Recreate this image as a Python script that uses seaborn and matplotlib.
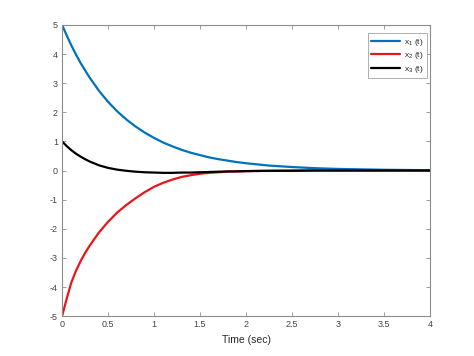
import matplotlib
matplotlib.use("Agg")
import matplotlib.pyplot as plt
import seaborn as sns
import pandas as pd

# values
t = [0.0, 0.05, 0.1, 0.15, 0.2, 0.25, 0.3, 0.4, 0.5, 0.6, 0.7, 0.8, 0.9, 1.0, 1.1, 1.2, 1.3, 1.4,
     1.5, 1.6, 1.7, 1.8, 1.9, 2.0, 2.25, 2.5, 2.75, 3.0, 3.25, 3.5, 3.75, 4.0]
x1 = [5.0, 4.64, 4.30, 3.99, 3.70, 3.44, 3.19, 2.74, 2.36, 2.03, 1.75, 1.51, 1.30, 1.12, 0.96, 0.83, 0.71, 0.61,
      0.53, 0.45, 0.39, 0.34, 0.29, 0.25, 0.17, 0.12, 0.08, 0.055, 0.04, 0.026, 0.018, 0.012]
x2 = [-5.0, -4.40, -3.85, -3.45, -3.12, -2.83, -2.58, -2.13, -1.76, -1.44, -1.18, -0.95, -0.74, -0.56, -0.42, -0.31,
      -0.22, -0.16, -0.11, -0.08, -0.06, -0.04, -0.03, -0.02, -0.01, 0.0, 0.0, 0.0, 0.0, 0.0, 0.0, 0.0]
x3 = [1.0, 0.84, 0.70, 0.58, 0.48, 0.39, 0.31, 0.18, 0.09, 0.03, -0.01, -0.04, -0.06, -0.07, -0.08, -0.08, -0.07,
      -0.07, -0.06, -0.05, -0.04, -0.03, -0.03, -0.02, -0.01, -0.01, 0.0, 0.0, 0.0, 0.0, 0.0, 0.0]
labels = ["x$_1$ (t)", "x$_2$ (t)", "x$_3$ (t)"]
colors = ["#0072BD", "#E8161C", "#000000"]
x_ticks = [0, 0.5, 1, 1.5, 2, 2.5, 3, 3.5, 4]
x_tick_labels = ["0", "0.5", "1", "1.5", "2", "2.5", "3", "3.5", "4"]
y_ticks = [-5, -4, -3, -2, -1, 0, 1, 2, 3, 4, 5]

df = pd.concat([
    pd.DataFrame({"t": t, "value": v, "state": lab})
    for v, lab in zip([x1, x2, x3], labels)
])

sns.set_theme(style="white")
plt.rcParams["font.family"] = ["Liberation Sans", "DejaVu Sans"]
plt.rcParams["mathtext.default"] = "regular"
plt.rcParams["axes.unicode_minus"] = False

fig = plt.figure(figsize=(4.74, 3.56), dpi=100)
ax = fig.add_axes([0.131, 0.112, 0.776, 0.818])

sns.lineplot(df, x="t", y="value", hue="state", palette=colors, linewidth=1.6, ax=ax)

ax.set_xlim(0, 4)
ax.set_ylim(-5, 5)
ax.set_xticks(x_ticks)
ax.set_xticklabels(x_tick_labels)
ax.set_yticks(y_ticks)
ax.set_xlabel("Time (sec)", fontsize=7.5, color="#262626", labelpad=4)
ax.set_ylabel("")

for s in ax.spines.values():
    s.set_color("#8c8c8c")
    s.set_linewidth(0.8)
ax.tick_params(direction="in", length=3, width=0.6, color="#8c8c8c",
               labelsize=6.5, labelcolor="#444444", top=True, right=True,
               left=True, bottom=True, pad=3)

leg = ax.legend(loc="upper right", bbox_to_anchor=(0.992, 0.973), fontsize=6,
                frameon=True, fancybox=False, handlelength=3.4, borderpad=0.45,
                labelspacing=0.3, borderaxespad=0, handletextpad=0.5)
leg.get_frame().set_edgecolor("#8c8c8c")
leg.get_frame().set_linewidth(0.6)
for line in leg.get_lines():
    line.set_linewidth(1.6)

fig.savefig("out.png", dpi=100)
